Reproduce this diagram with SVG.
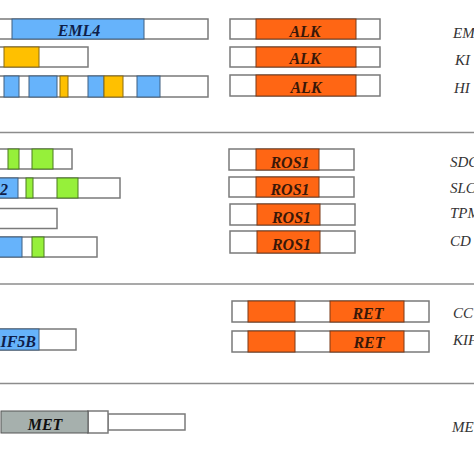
<svg xmlns="http://www.w3.org/2000/svg" width="474" height="474" viewBox="0 0 474 474">
<style>
.box{fill:#fff;stroke:#7a7a7a;stroke-width:1.5}
.blue{fill:#66b3fb;stroke:#3f5f80;stroke-width:1}
.org{fill:#ff6614;stroke:#7a3a18;stroke-width:1}
.yel{fill:#ffc000;stroke:#8a6a10;stroke-width:1}
.grn{fill:#96f03a;stroke:#4a7a20;stroke-width:1}
.gry{fill:#a6b0ad;stroke:#555;stroke-width:1}
.bt{font-family:"Liberation Serif",serif;font-style:italic;font-weight:bold;font-size:16px;text-anchor:middle}
.nv{fill:#0f1f4a}
.br{fill:#3a1808}
.lab{font-family:"Liberation Serif",serif;font-style:italic;font-size:15px;fill:#333}
.sep{stroke:#8c8c8c;stroke-width:1.5}
</style>
<g id="separators">
<line class="sep" x1="0" y1="132.5" x2="474" y2="132.5"/>
<line class="sep" x1="0" y1="284" x2="474" y2="284"/>
<line class="sep" x1="0" y1="383.5" x2="474" y2="383.5"/>
</g>
<g id="eml4-partner">
<rect class="box" x="-5" y="19" width="213" height="20"/>
<rect class="blue" x="12" y="19" width="132" height="20"/>
<text class="bt nv" x="79" y="36">EML4</text>
</g>
<g id="kif5b-partner-alk">
<rect class="box" x="-5" y="47" width="93" height="20"/>
<rect class="yel" x="4" y="47" width="35" height="20"/>
</g>
<g id="hip1-partner">
<rect class="box" x="-5" y="76" width="213" height="21"/>
<rect class="blue" x="4" y="76" width="15" height="21"/>
<rect class="blue" x="29" y="76" width="28" height="21"/>
<rect class="yel" x="60" y="76" width="8" height="21"/>
<rect class="blue" x="88" y="76" width="16" height="21"/>
<rect class="yel" x="104" y="76" width="19" height="21"/>
<rect class="blue" x="137" y="76" width="23" height="21"/>
</g>
<g id="alk1">
<rect class="box" x="230" y="19" width="150" height="20"/>
<rect class="org" x="256" y="19" width="100" height="20"/>
<text class="bt br" x="305" y="36.5">ALK</text>
</g>
<g id="alk2">
<rect class="box" x="230" y="47" width="150" height="20"/>
<rect class="org" x="256" y="47" width="100" height="20"/>
<text class="bt br" x="305" y="64">ALK</text>
</g>
<g id="alk3">
<rect class="box" x="230" y="75" width="150" height="21"/>
<rect class="org" x="256" y="75" width="100" height="21"/>
<text class="bt br" x="306" y="92.5">ALK</text>
</g>
<g id="labels-alk">
<text class="lab" x="453" y="38">EM</text>
<text class="lab" x="455" y="65">KI</text>
<text class="lab" x="454" y="93">HI</text>
</g>
<g id="sdc4-partner">
<rect class="box" x="-5" y="149" width="77" height="20"/>
<rect class="grn" x="8" y="149" width="11" height="20"/>
<rect class="grn" x="32" y="149" width="21" height="20"/>
</g>
<g id="slc34a2-partner">
<rect class="box" x="-5" y="178" width="125" height="20"/>
<rect class="blue" x="-5" y="178" width="23" height="20"/>
<text class="bt nv" x="8" y="194.5" style="text-anchor:end">2</text>
<rect class="grn" x="26" y="178" width="7" height="20"/>
<rect class="grn" x="57" y="178" width="21" height="20"/>
</g>
<g id="tpm3-partner">
<rect class="box" x="-5" y="208.5" width="62" height="20"/>
</g>
<g id="cd74-partner">
<rect class="box" x="-5" y="237" width="102" height="20"/>
<rect class="blue" x="-5" y="237" width="27" height="20"/>
<rect class="grn" x="32" y="237" width="12" height="20"/>
</g>
<g id="ros1-1">
<rect class="box" x="229" y="149" width="125" height="21"/>
<rect class="org" x="256" y="149" width="63" height="21"/>
<text class="bt br" x="290" y="167.5">ROS1</text>
</g>
<g id="ros1-2">
<rect class="box" x="229" y="177" width="125" height="20"/>
<rect class="org" x="256" y="177" width="63" height="20"/>
<text class="bt br" x="290" y="194.5">ROS1</text>
</g>
<g id="ros1-3">
<rect class="box" x="230" y="204" width="125" height="21"/>
<rect class="org" x="257" y="204" width="63" height="21"/>
<text class="bt br" x="291.5" y="222.5">ROS1</text>
</g>
<g id="ros1-4">
<rect class="box" x="230" y="231" width="125" height="22"/>
<rect class="org" x="257" y="231" width="63" height="22"/>
<text class="bt br" x="291.5" y="249.5">ROS1</text>
</g>
<g id="labels-ros1">
<text class="lab" x="450" y="167">SDC</text>
<text class="lab" x="450" y="193">SLC</text>
<text class="lab" x="450" y="218">TPM</text>
<text class="lab" x="450" y="246">CD</text>
</g>
<g id="kif5b-partner-ret">
<rect class="box" x="-5" y="329" width="81" height="21"/>
<rect class="blue" x="-5" y="329" width="44" height="21"/>
<text class="bt nv" x="36" y="346.5" style="text-anchor:end">IF5B</text>
</g>
<g id="ret1">
<rect class="box" x="232" y="301" width="197" height="21"/>
<rect class="org" x="248" y="301" width="47" height="21"/>
<rect class="org" x="330" y="301" width="74" height="21"/>
<text class="bt br" x="368" y="319">RET</text>
</g>
<g id="ret2">
<rect class="box" x="232" y="331" width="197" height="21"/>
<rect class="org" x="248" y="331" width="47" height="21"/>
<rect class="org" x="330" y="331" width="74" height="21"/>
<text class="bt br" x="369" y="348">RET</text>
</g>
<g id="labels-ret">
<text class="lab" x="453" y="318">CC</text>
<text class="lab" x="453" y="345">KIF</text>
</g>
<g id="met">
<rect class="box" x="108" y="414" width="77" height="16"/>
<rect class="box" x="88" y="411" width="20" height="22"/>
<rect class="gry" x="1" y="411" width="87" height="22"/>
<text class="bt" x="45" y="430" style="fill:#111">MET</text>
</g>
<g id="labels-met">
<text class="lab" x="452" y="432">ME</text>
</g>
</svg>
